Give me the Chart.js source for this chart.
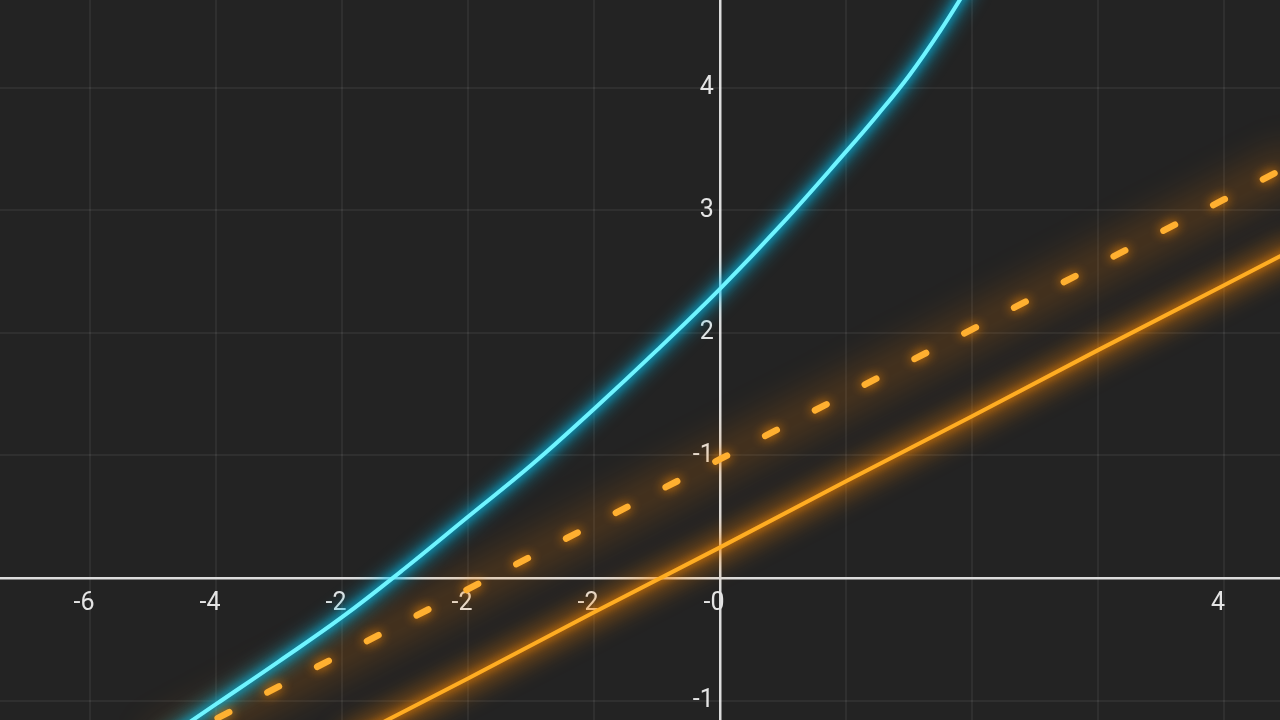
<!DOCTYPE html>
<html>
<head>
<meta charset="utf-8">
<script src="https://cdn.jsdelivr.net/npm/chart.js@4.4.1/dist/chart.umd.min.js"></script>
<style>
  html, body { margin: 0; padding: 0; background: #232323; }
  #wrap { width: 1280px; height: 720px; position: relative; }
</style>
</head>
<body>
<div id="wrap"><canvas id="c"></canvas></div>
<script>
// ---- data ----
const xTickValues = [-5, -4, -3, -2, -1, 0, 1, 2, 3, 4];
const xTickLabels = ["-6", "-4", "-2", "-2", "-2", "-0", "", "", "", "4"];
const yTickValues = [-1, 0, 1, 2, 3, 4];
const yTickLabels = ["-1", "", "-1", "2", "3", "4"];

const cyanX = [-4.5, -4, -3.5, -3, -2.5, -2, -1.5, -1, -0.5, 0, 0.5, 1, 1.25, 1.5, 1.75, 2];
const cyanY = [-1.38, -1.03, -0.68, -0.32, 0.08, 0.50, 0.92, 1.38, 1.86, 2.36, 2.90, 3.48, 3.78, 4.10, 4.47, 4.88];

const dashX = [-4.5, -4, -3, -2, -1, 0, 1, 2, 3, 4, 4.6];
const dashY = [-1.42, -1.15, -0.62, -0.09, 0.44, 0.97, 1.50, 2.03, 2.56, 3.09, 3.41];

const solidX = [-3, -2, -1, 0, 1, 2, 3, 4, 4.6];
const solidY = [-1.35, -0.82, -0.28, 0.25, 0.79, 1.32, 1.86, 2.39, 2.71];

const xRange = [-5.714, 4.444];
const yRange = [-1.159, 4.718];

const pts = (xs, ys) => xs.map((x, i) => ({ x: x, y: ys[i] }));

const glowPlugin = {
  id: 'glow',
  beforeDatasetDraw(chart, args) {
    const ds = chart.data.datasets[args.index];
    const ctx = chart.ctx;
    ctx.save();
    if (ds.blurPx) ctx.filter = 'blur(' + ds.blurPx + 'px)';
    if (ds.glowColor) {
      ctx.shadowColor = ds.glowColor;
      ctx.shadowBlur = ds.glowBlur || 12;
    }
  },
  afterDatasetDraw(chart) {
    chart.ctx.restore();
  }
};

const gridColor = 'rgba(255,255,255,0.06)';
const axisColor = '#dcdcdc';
const tickFont = { family: 'Roboto, "Liberation Sans", sans-serif', size: 25 };

new Chart(document.getElementById('c'), {
  type: 'scatter',
  data: {
    datasets: [
      {
        label: 'cyan',
        data: pts(cyanX, cyanY),
        showLine: true,
        borderColor: '#6ff4ff',
        borderWidth: 4,
        pointRadius: 0,
        tension: 0.4,
        glowColor: 'rgba(0,205,255,1)',
        glowBlur: 10,
        order: 1
      },
      {
        label: 'dashed',
        data: pts(dashX, dashY),
        showLine: true,
        borderColor: '#ffb030',
        borderWidth: 6.5,
        borderDash: [13, 43],
        borderDashOffset: 39,
        borderCapStyle: 'round',
        pointRadius: 0,
        glowColor: 'rgba(255,140,0,1)',
        glowBlur: 12,
        order: 2
      },
      {
        label: 'solid',
        data: pts(solidX, solidY),
        showLine: true,
        borderColor: '#ffad22',
        borderWidth: 4,
        pointRadius: 0,
        glowColor: 'rgba(255,140,0,1)',
        glowBlur: 10,
        order: 3
      },
      {
        label: 'cyan halo',
        data: pts(cyanX, cyanY),
        showLine: true,
        borderColor: 'rgba(0,195,245,0.55)',
        borderWidth: 14,
        pointRadius: 0,
        tension: 0.4,
        blurPx: 9,
        order: 4
      },
      {
        label: 'solid halo',
        data: pts(solidX, solidY),
        showLine: true,
        borderColor: 'rgba(255,135,0,0.6)',
        borderWidth: 18,
        pointRadius: 0,
        blurPx: 13,
        order: 5
      },
      {
        label: 'dashed halo',
        data: pts(dashX, dashY),
        showLine: true,
        borderColor: 'rgba(255,130,0,0.22)',
        borderWidth: 34,
        pointRadius: 0,
        blurPx: 18,
        order: 6
      }
    ]
  },
  options: {
    responsive: true,
    maintainAspectRatio: false,
    animation: false,
    layout: { padding: 0 },
    plugins: { legend: { display: false }, tooltip: { enabled: false } },
    scales: {
      x: {
        type: 'linear',
        min: xRange[0],
        max: xRange[1],
        position: { y: 0 },
        afterFit(s) { s.height = 0; s.paddingLeft = 0; s.paddingRight = 0; },
        afterBuildTicks(s) { s.ticks = xTickValues.map(v => ({ value: v })); },
        border: { display: false },
        grid: {
          drawTicks: false,
          color: c => (c.tick && c.tick.value === 0) ? axisColor : gridColor,
          lineWidth: c => (c.tick && c.tick.value === 0) ? 2.5 : 2
        },
        ticks: {
          padding: 11,
          labelOffset: -6,
          color: '#e4e4e4',
          font: tickFont,
          callback: (v, i) => xTickLabels[i]
        }
      },
      y: {
        type: 'linear',
        min: yRange[0],
        max: yRange[1],
        position: { x: -0.05 },
        afterFit(s) { s.width = 0; s.paddingTop = 0; s.paddingBottom = 0; },
        afterBuildTicks(s) { s.ticks = yTickValues.map(v => ({ value: v })); },
        border: { display: false },
        grid: {
          drawTicks: false,
          color: c => (c.tick && c.tick.value === 0) ? axisColor : gridColor,
          lineWidth: c => (c.tick && c.tick.value === 0) ? 2.5 : 2
        },
        ticks: {
          color: '#e4e4e4',
          font: tickFont,
          callback: (v, i) => yTickLabels[i]
        }
      }
    }
  },
  plugins: [glowPlugin]
});
</script>
</body>
</html>
